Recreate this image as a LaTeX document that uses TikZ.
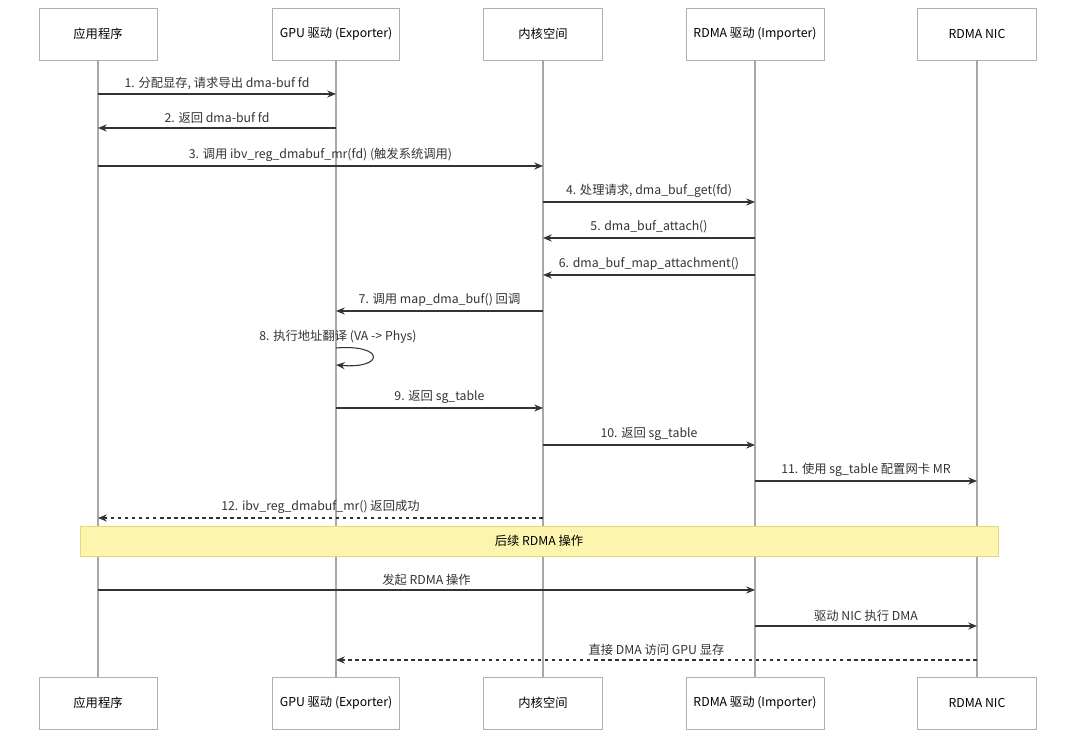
\documentclass[tikz,border=0pt]{standalone}
\usepackage{fontspec}
\setmainfont{Noto Sans CJK SC}
\usetikzlibrary{arrows.meta}
\definecolor{lifec}{HTML}{A8A8A8}
\definecolor{boxc}{HTML}{B0B0B0}
\definecolor{msgc}{HTML}{333333}
\definecolor{notef}{HTML}{FDF4AE}
\definecolor{noted}{HTML}{E6D77A}
\begin{document}
\begin{tikzpicture}[x=0.02cm,y=-0.02cm,font=\fontsize{7}{8}\selectfont,
  actor/.style={draw=boxc,fill=white,minimum height=1.04cm,inner sep=2pt},
  life/.style={draw=lifec,line width=0.6pt},
  msg/.style={draw=msgc,line width=0.6pt,-{Stealth[length=5pt,width=4pt]}},
  rmsg/.style={msg,dashed,dash pattern=on 2pt off 2pt},
  lab/.style={midway,above=-1pt,text=msgc}]
\path[use as bounding box] (0,0) rectangle (1080,739);
\foreach \n/\x/\w/\t in {a/98/118/应用程序, g/336/127/GPU 驱动 (Exporter), k/543/119/内核空间, r/755/138/RDMA 驱动 (Importer), n/977/119/RDMA NIC}{
  \node[actor,minimum width=\w*0.02cm] (\n t) at (\x,34) {\t};
  \node[actor,minimum width=\w*0.02cm] (\n b) at (\x,703) {\t};
  \draw[life] (\n t) -- (\n b);
}
\newcommand\msgline[5]{\coordinate (s) at (#1,#3); \coordinate (e) at (#2,#3);
  \draw[#4] (s) -- node[lab]{#5} (e);}
\msgline{98}{336}{94}{msg}{1. 分配显存, 请求导出 dma-buf fd}
\msgline{336}{98}{128}{msg}{2. 返回 dma-buf fd}
\msgline{98}{543}{166}{msg}{3. 调用 ibv\_reg\_dmabuf\_mr(fd) (触发系统调用)}
\msgline{543}{755}{202}{msg}{4. 处理请求, dma\_buf\_get(fd)}
\msgline{755}{543}{238}{msg}{5. dma\_buf\_attach()}
\msgline{755}{543}{275}{msg}{6. dma\_buf\_map\_attachment()}
\msgline{543}{336}{311}{msg}{7. 调用 map\_dma\_buf() 回调}
\coordinate (l1) at (336,348); \coordinate (l2) at (336,365);
\node[text=msgc] (l8) at (338,337) {8. 执行地址翻译 (VA -> Phys)};
\draw[msg] (l1) .. controls (385,344) and (385,369) .. (l2);
\msgline{336}{543}{408}{msg}{9. 返回 sg\_table}
\msgline{543}{755}{445}{msg}{10. 返回 sg\_table}
\msgline{755}{977}{481}{msg}{11. 使用 sg\_table 配置网卡 MR}
\msgline{543}{98}{518}{rmsg}{12. ibv\_reg\_dmabuf\_mr() 返回成功}
\node[draw=noted,fill=notef,minimum width=918*0.02cm,minimum height=30*0.02cm,inner sep=0pt] (note) at (539,541) {后续 RDMA 操作};
\msgline{98}{755}{590}{msg}{发起 RDMA 操作}
\msgline{755}{977}{626}{msg}{驱动 NIC 执行 DMA}
\msgline{977}{336}{660}{rmsg}{直接 DMA 访问 GPU 显存}
\end{tikzpicture}
\end{document}
